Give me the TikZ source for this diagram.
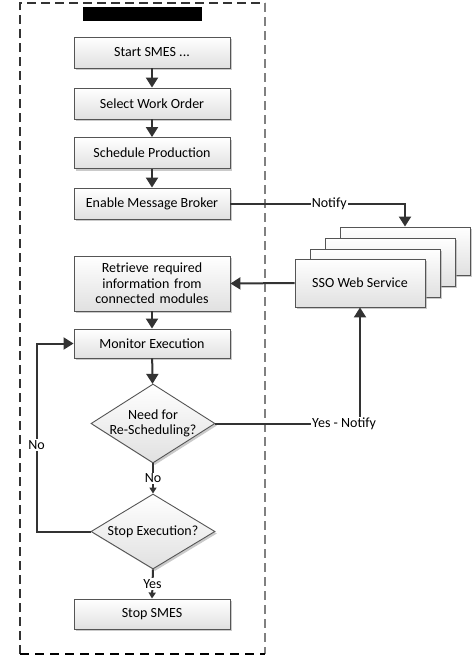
\documentclass[tikz,border=0pt]{standalone}
\usepackage{fontspec}
\setmainfont{Carlito}
\usetikzlibrary{arrows.meta,shapes.geometric,shadows}
\definecolor{linec}{HTML}{333333}
\definecolor{boxedge}{HTML}{555555}
\begin{document}
\begin{tikzpicture}[x=1pt,y=-1pt,
  font=\fontsize{14}{15.5}\selectfont,
  proc/.style={draw=boxedge,line width=0.9pt,top color=white,bottom color=black!12,
    minimum width=156pt,minimum height=31pt,inner sep=1pt,align=center,
    drop shadow={shadow xshift=2pt,shadow yshift=-2pt,fill=black!35,opacity=0.6}},
  decision/.style={diamond,draw=boxedge,line width=0.9pt,top color=white,bottom color=black!12,
    minimum width=124pt,minimum height=79pt,inner sep=0pt,
    drop shadow={shadow xshift=2pt,shadow yshift=-2pt,fill=black!35,opacity=0.6}},
  conn/.style={draw=linec,line width=2pt,-{Triangle[width=12pt,length=10pt]}},
  smallconn/.style={draw=linec,line width=2pt,-{Triangle[width=7pt,length=6pt]}},
  lbl/.style={fill=white,inner sep=1pt}
]
\useasboundingbox (0,0) rectangle (474,656);
% frame
\draw[black!80,line width=1.2pt,dash pattern=on 9pt off 5pt] (20,654) -- (20,3) -- (265,3);
\draw[black!50,line width=1.2pt,dash pattern=on 9pt off 5pt] (265,3) -- (265,654);
\draw[black,line width=2.5pt,dash pattern=on 9pt off 6pt] (20,654) -- (265,654);
\fill[black] (83,7) rectangle (202,21);
% left column
\node[proc] (start) at (152,52.5) {Start SMES ...};
\node[proc] (sel) at (152,103.5) {Select Work Order};
\node[proc] (sch) at (152,153) {Schedule Production};
\node[proc] (emb) at (152,203.5) {Enable Message Broker};
\node[proc,minimum height=55pt,text width=150pt] (ret) at (152,283.5) {Retrieve required\\information from\\connected modules};
\node[proc,minimum height=29pt] (mon) at (152,343.5) {Monitor Execution};
\node[decision,label={[align=center]center:Need for\\Re-Scheduling?}] (d1) at (153,423.5) {};
\node[decision,minimum height=75pt,label={center:Stop Execution?}] (d2) at (153,531.5) {};
\node[proc,minimum height=30pt] (stop) at (152,614) {Stop SMES};
% SSO stack
\node[proc,minimum width=130pt,minimum height=48pt] (sso3) at (405,251) {};
\node[proc,minimum width=130pt,minimum height=48pt] (sso2) at (390,262) {};
\node[proc,minimum width=130pt,minimum height=48pt] (sso1) at (375,273) {};
\node[proc,minimum width=130pt,minimum height=48pt] (sso) at (360,283) {SSO Web Service};
% connectors
\draw[conn] (start) -- (sel);
\draw[conn] (sel) -- (sch);
\draw[conn] (sch) -- (emb);
\draw[conn] (emb.east) -| node[lbl,pos=0.283] {Notify} (sso3.north);
\draw[conn] (sso.west) -- (ret.east);
\draw[conn] (ret) -- (mon);
\draw[conn] (mon) -- (d1);
\draw[conn] (d1.east) -| node[lbl,pos=0.445] {Yes - Notify} (sso.south);
\draw[smallconn] (d1.south) -- node[lbl] {No} (d2.north);
\draw[smallconn] (d2.south) -- node[lbl] {Yes} (stop.north);
\draw[conn] (d2.west) -- ++(-54,0) coordinate (lc) |- node[lbl,pos=0.23] {No} (mon.west);
\end{tikzpicture}
\end{document}
